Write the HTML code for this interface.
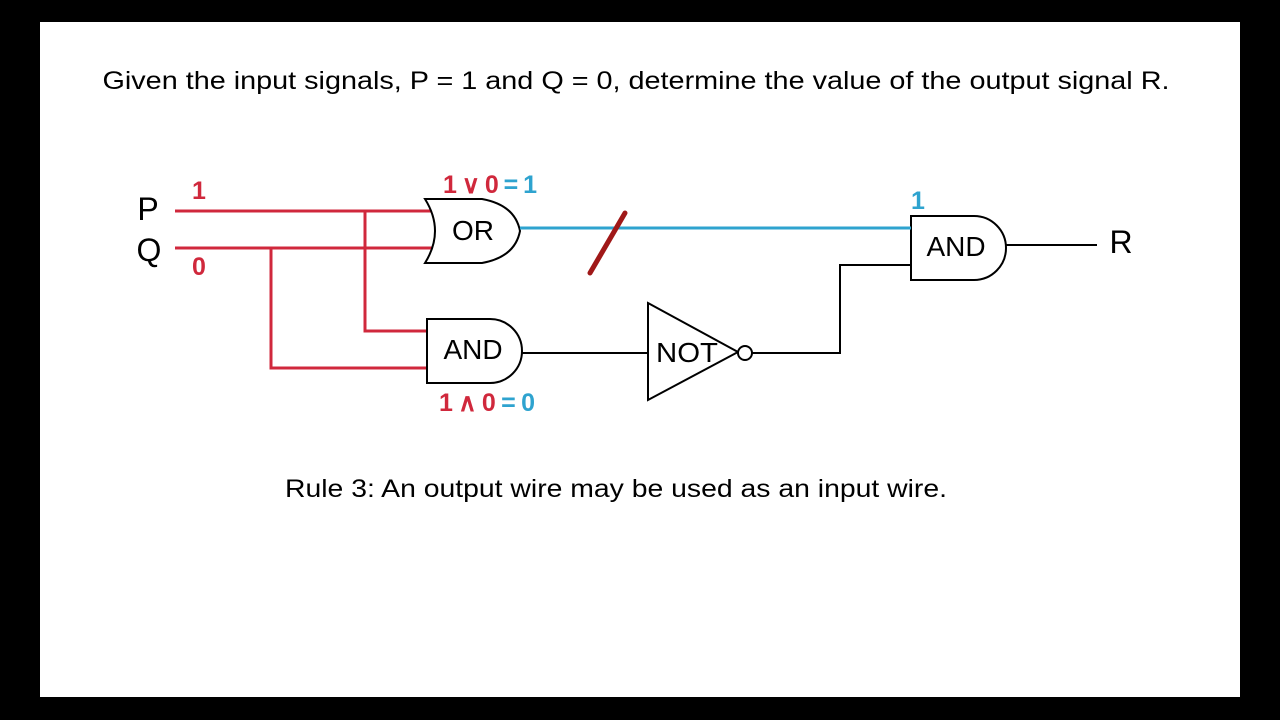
<!DOCTYPE html>
<html><head><style>
body{margin:0;width:1280px;height:720px;background:#000;overflow:hidden}
svg{display:block}
</style></head><body>
<svg width="1280" height="720" viewBox="0 0 1280 720" font-family="Liberation Sans, sans-serif">
<rect x="40" y="22" width="1200" height="675" fill="#fff"/>
<text x="636" y="89" font-size="25" text-anchor="middle" textLength="1067" lengthAdjust="spacingAndGlyphs" fill="#000">Given the input signals, P = 1 and Q = 0, determine the value of the output signal R.</text>
<text x="616" y="497" font-size="25" text-anchor="middle" textLength="662" lengthAdjust="spacingAndGlyphs" fill="#000">Rule 3: An output wire may be used as an input wire.</text>
<g stroke="#d0283c" stroke-width="3" fill="none">
<path d="M175 211H436M175 248H437M365 211V331H427M271 248V368H427"/>
</g>
<g stroke="#000" stroke-width="2" fill="#fff">
<path d="M425 199L482 199Q515 205 520 231Q515 257 482 263L425 263Q445 231 425 199Z"/>
<path d="M427 319H490A32 32 0 0 1 490 383H427Z"/>
<path d="M911 216H974A32 32 0 0 1 974 280H911Z"/>
<path d="M648 303L738 352L648 400Z"/>
<circle cx="745" cy="353" r="7"/>
<path fill="none" d="M522 353H648M752 353H840V265H911M1006 245H1097"/>
</g>
<path d="M520 228H911" stroke="#2ea3cf" stroke-width="3"/>
<path d="M590 273L625 213" stroke="#a01818" stroke-width="5" stroke-linecap="round"/>
<g font-size="28" text-anchor="middle" fill="#000">
<text x="473" y="240">OR</text>
<text x="473" y="359">AND</text>
<text x="956" y="256">AND</text>
<text x="687" y="362" textLength="62" lengthAdjust="spacingAndGlyphs">NOT</text>
</g>
<text x="148" y="220" font-size="32" text-anchor="middle">P</text>
<text x="149" y="261" font-size="32" text-anchor="middle">Q</text>
<text x="1121" y="253" font-size="32" text-anchor="middle">R</text>
<g font-size="25" font-weight="bold">
<text x="199" y="199" fill="#d0283c" text-anchor="middle">1</text>
<text x="199" y="275" fill="#d0283c" text-anchor="middle">0</text>
<text x="443" y="193" fill="#d0283c" textLength="94" lengthAdjust="spacing">1 ∨ 0 <tspan fill="#2ea3cf">= 1</tspan></text>
<text x="918" y="209" fill="#2ea3cf" text-anchor="middle">1</text>
<text x="439" y="411" fill="#d0283c" textLength="96" lengthAdjust="spacing">1 ∧ 0 <tspan fill="#2ea3cf">= 0</tspan></text>
</g>
</svg>
</body></html>
